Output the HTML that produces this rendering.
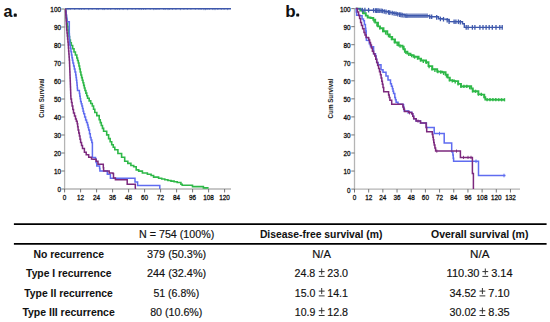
<!DOCTYPE html>
<html><head><meta charset="utf-8"><style>
html,body{margin:0;padding:0;background:#fff;}
body{width:550px;height:322px;overflow:hidden;}
svg{display:block;}
text{font-family:"Liberation Sans",sans-serif;fill:#111;}
.tk{font-size:7.4px;fill:#111;stroke:#111;stroke-width:0.3px;}
.yl{font-size:6.3px;font-weight:bold;fill:#1a1a1a;}
.pl{font-size:17px;font-weight:bold;fill:#111;}
.tb{font-size:10px;font-weight:bold;fill:#111;stroke:#111;stroke-width:0.05px;}
.tr{font-size:10px;fill:#111;stroke:#111;stroke-width:0.15px;}
</style></head><body>
<svg width="550" height="322" viewBox="0 0 550 322">
<text x="3.4" y="16.7" class="pl" textLength="9.0" lengthAdjust="spacingAndGlyphs">a</text>
<rect x="13.7" y="13.6" width="3.1" height="3.2" rx="0.9" fill="#111"/>
<text x="285.3" y="16.5" class="pl">b</text>
<rect x="296.2" y="13.5" width="3.0" height="3.1" rx="0.9" fill="#111"/>
<line x1="64.6" y1="8.70" x2="64.6" y2="189.60" stroke="#B4B4B4" stroke-width="1.3"/>
<line x1="64.00" y1="189.0" x2="231" y2="189.0" stroke="#B4B4B4" stroke-width="1.3"/>
<line x1="61.40" y1="189.00" x2="64.6" y2="189.00" stroke="#555" stroke-width="0.8"/>
<text x="61.0" y="192.40" class="tk" text-anchor="end" textLength="3.55" lengthAdjust="spacingAndGlyphs">0</text>
<line x1="61.40" y1="171.00" x2="64.6" y2="171.00" stroke="#555" stroke-width="0.8"/>
<text x="61.0" y="174.40" class="tk" text-anchor="end" textLength="7.10" lengthAdjust="spacingAndGlyphs">10</text>
<line x1="61.40" y1="153.00" x2="64.6" y2="153.00" stroke="#555" stroke-width="0.8"/>
<text x="61.0" y="156.40" class="tk" text-anchor="end" textLength="7.10" lengthAdjust="spacingAndGlyphs">20</text>
<line x1="61.40" y1="135.00" x2="64.6" y2="135.00" stroke="#555" stroke-width="0.8"/>
<text x="61.0" y="138.40" class="tk" text-anchor="end" textLength="7.10" lengthAdjust="spacingAndGlyphs">30</text>
<line x1="61.40" y1="117.00" x2="64.6" y2="117.00" stroke="#555" stroke-width="0.8"/>
<text x="61.0" y="120.40" class="tk" text-anchor="end" textLength="7.10" lengthAdjust="spacingAndGlyphs">40</text>
<line x1="61.40" y1="99.00" x2="64.6" y2="99.00" stroke="#555" stroke-width="0.8"/>
<text x="61.0" y="102.40" class="tk" text-anchor="end" textLength="7.10" lengthAdjust="spacingAndGlyphs">50</text>
<line x1="61.40" y1="81.00" x2="64.6" y2="81.00" stroke="#555" stroke-width="0.8"/>
<text x="61.0" y="84.40" class="tk" text-anchor="end" textLength="7.10" lengthAdjust="spacingAndGlyphs">60</text>
<line x1="61.40" y1="63.00" x2="64.6" y2="63.00" stroke="#555" stroke-width="0.8"/>
<text x="61.0" y="66.40" class="tk" text-anchor="end" textLength="7.10" lengthAdjust="spacingAndGlyphs">70</text>
<line x1="61.40" y1="45.00" x2="64.6" y2="45.00" stroke="#555" stroke-width="0.8"/>
<text x="61.0" y="48.40" class="tk" text-anchor="end" textLength="7.10" lengthAdjust="spacingAndGlyphs">80</text>
<line x1="61.40" y1="27.00" x2="64.6" y2="27.00" stroke="#555" stroke-width="0.8"/>
<text x="61.0" y="30.40" class="tk" text-anchor="end" textLength="7.10" lengthAdjust="spacingAndGlyphs">90</text>
<line x1="61.40" y1="9.00" x2="64.6" y2="9.00" stroke="#555" stroke-width="0.8"/>
<text x="61.0" y="12.40" class="tk" text-anchor="end" textLength="10.65" lengthAdjust="spacingAndGlyphs">100</text>
<line x1="64.60" y1="189.0" x2="64.60" y2="192.40" stroke="#666" stroke-width="0.9"/>
<text x="64.60" y="199.50" class="tk" text-anchor="middle" textLength="3.55" lengthAdjust="spacingAndGlyphs">0</text>
<line x1="80.60" y1="189.0" x2="80.60" y2="192.40" stroke="#666" stroke-width="0.9"/>
<text x="80.60" y="199.50" class="tk" text-anchor="middle" textLength="7.10" lengthAdjust="spacingAndGlyphs">12</text>
<line x1="96.60" y1="189.0" x2="96.60" y2="192.40" stroke="#666" stroke-width="0.9"/>
<text x="96.60" y="199.50" class="tk" text-anchor="middle" textLength="7.10" lengthAdjust="spacingAndGlyphs">24</text>
<line x1="112.60" y1="189.0" x2="112.60" y2="192.40" stroke="#666" stroke-width="0.9"/>
<text x="112.60" y="199.50" class="tk" text-anchor="middle" textLength="7.10" lengthAdjust="spacingAndGlyphs">36</text>
<line x1="128.60" y1="189.0" x2="128.60" y2="192.40" stroke="#666" stroke-width="0.9"/>
<text x="128.60" y="199.50" class="tk" text-anchor="middle" textLength="7.10" lengthAdjust="spacingAndGlyphs">48</text>
<line x1="144.60" y1="189.0" x2="144.60" y2="192.40" stroke="#666" stroke-width="0.9"/>
<text x="144.60" y="199.50" class="tk" text-anchor="middle" textLength="7.10" lengthAdjust="spacingAndGlyphs">60</text>
<line x1="160.60" y1="189.0" x2="160.60" y2="192.40" stroke="#666" stroke-width="0.9"/>
<text x="160.60" y="199.50" class="tk" text-anchor="middle" textLength="7.10" lengthAdjust="spacingAndGlyphs">72</text>
<line x1="176.60" y1="189.0" x2="176.60" y2="192.40" stroke="#666" stroke-width="0.9"/>
<text x="176.60" y="199.50" class="tk" text-anchor="middle" textLength="7.10" lengthAdjust="spacingAndGlyphs">84</text>
<line x1="192.60" y1="189.0" x2="192.60" y2="192.40" stroke="#666" stroke-width="0.9"/>
<text x="192.60" y="199.50" class="tk" text-anchor="middle" textLength="7.10" lengthAdjust="spacingAndGlyphs">96</text>
<line x1="208.60" y1="189.0" x2="208.60" y2="192.40" stroke="#666" stroke-width="0.9"/>
<text x="208.60" y="199.50" class="tk" text-anchor="middle" textLength="10.65" lengthAdjust="spacingAndGlyphs">108</text>
<line x1="224.60" y1="189.0" x2="224.60" y2="192.40" stroke="#666" stroke-width="0.9"/>
<text x="224.60" y="199.50" class="tk" text-anchor="middle" textLength="10.65" lengthAdjust="spacingAndGlyphs">120</text>
<line x1="354.5" y1="8.30" x2="354.5" y2="189.70" stroke="#B4B4B4" stroke-width="1.3"/>
<line x1="353.90" y1="189.1" x2="520" y2="189.1" stroke="#B4B4B4" stroke-width="1.3"/>
<line x1="351.30" y1="189.10" x2="354.5" y2="189.10" stroke="#555" stroke-width="0.8"/>
<text x="350.6" y="192.50" class="tk" text-anchor="end" textLength="3.55" lengthAdjust="spacingAndGlyphs">0</text>
<line x1="351.30" y1="171.05" x2="354.5" y2="171.05" stroke="#555" stroke-width="0.8"/>
<text x="350.6" y="174.45" class="tk" text-anchor="end" textLength="7.10" lengthAdjust="spacingAndGlyphs">10</text>
<line x1="351.30" y1="153.00" x2="354.5" y2="153.00" stroke="#555" stroke-width="0.8"/>
<text x="350.6" y="156.40" class="tk" text-anchor="end" textLength="7.10" lengthAdjust="spacingAndGlyphs">20</text>
<line x1="351.30" y1="134.95" x2="354.5" y2="134.95" stroke="#555" stroke-width="0.8"/>
<text x="350.6" y="138.35" class="tk" text-anchor="end" textLength="7.10" lengthAdjust="spacingAndGlyphs">30</text>
<line x1="351.30" y1="116.90" x2="354.5" y2="116.90" stroke="#555" stroke-width="0.8"/>
<text x="350.6" y="120.30" class="tk" text-anchor="end" textLength="7.10" lengthAdjust="spacingAndGlyphs">40</text>
<line x1="351.30" y1="98.85" x2="354.5" y2="98.85" stroke="#555" stroke-width="0.8"/>
<text x="350.6" y="102.25" class="tk" text-anchor="end" textLength="7.10" lengthAdjust="spacingAndGlyphs">50</text>
<line x1="351.30" y1="80.80" x2="354.5" y2="80.80" stroke="#555" stroke-width="0.8"/>
<text x="350.6" y="84.20" class="tk" text-anchor="end" textLength="7.10" lengthAdjust="spacingAndGlyphs">60</text>
<line x1="351.30" y1="62.75" x2="354.5" y2="62.75" stroke="#555" stroke-width="0.8"/>
<text x="350.6" y="66.15" class="tk" text-anchor="end" textLength="7.10" lengthAdjust="spacingAndGlyphs">70</text>
<line x1="351.30" y1="44.70" x2="354.5" y2="44.70" stroke="#555" stroke-width="0.8"/>
<text x="350.6" y="48.10" class="tk" text-anchor="end" textLength="7.10" lengthAdjust="spacingAndGlyphs">80</text>
<line x1="351.30" y1="26.65" x2="354.5" y2="26.65" stroke="#555" stroke-width="0.8"/>
<text x="350.6" y="30.05" class="tk" text-anchor="end" textLength="7.10" lengthAdjust="spacingAndGlyphs">90</text>
<line x1="351.30" y1="8.60" x2="354.5" y2="8.60" stroke="#555" stroke-width="0.8"/>
<text x="350.6" y="12.00" class="tk" text-anchor="end" textLength="10.65" lengthAdjust="spacingAndGlyphs">100</text>
<line x1="354.50" y1="189.1" x2="354.50" y2="192.50" stroke="#666" stroke-width="0.9"/>
<text x="354.50" y="199.60" class="tk" text-anchor="middle" textLength="3.55" lengthAdjust="spacingAndGlyphs">0</text>
<line x1="368.68" y1="189.1" x2="368.68" y2="192.50" stroke="#666" stroke-width="0.9"/>
<text x="368.68" y="199.60" class="tk" text-anchor="middle" textLength="7.10" lengthAdjust="spacingAndGlyphs">12</text>
<line x1="382.86" y1="189.1" x2="382.86" y2="192.50" stroke="#666" stroke-width="0.9"/>
<text x="382.86" y="199.60" class="tk" text-anchor="middle" textLength="7.10" lengthAdjust="spacingAndGlyphs">24</text>
<line x1="397.04" y1="189.1" x2="397.04" y2="192.50" stroke="#666" stroke-width="0.9"/>
<text x="397.04" y="199.60" class="tk" text-anchor="middle" textLength="7.10" lengthAdjust="spacingAndGlyphs">36</text>
<line x1="411.22" y1="189.1" x2="411.22" y2="192.50" stroke="#666" stroke-width="0.9"/>
<text x="411.22" y="199.60" class="tk" text-anchor="middle" textLength="7.10" lengthAdjust="spacingAndGlyphs">48</text>
<line x1="425.40" y1="189.1" x2="425.40" y2="192.50" stroke="#666" stroke-width="0.9"/>
<text x="425.40" y="199.60" class="tk" text-anchor="middle" textLength="7.10" lengthAdjust="spacingAndGlyphs">60</text>
<line x1="439.58" y1="189.1" x2="439.58" y2="192.50" stroke="#666" stroke-width="0.9"/>
<text x="439.58" y="199.60" class="tk" text-anchor="middle" textLength="7.10" lengthAdjust="spacingAndGlyphs">72</text>
<line x1="453.76" y1="189.1" x2="453.76" y2="192.50" stroke="#666" stroke-width="0.9"/>
<text x="453.76" y="199.60" class="tk" text-anchor="middle" textLength="7.10" lengthAdjust="spacingAndGlyphs">84</text>
<line x1="467.94" y1="189.1" x2="467.94" y2="192.50" stroke="#666" stroke-width="0.9"/>
<text x="467.94" y="199.60" class="tk" text-anchor="middle" textLength="7.10" lengthAdjust="spacingAndGlyphs">96</text>
<line x1="482.12" y1="189.1" x2="482.12" y2="192.50" stroke="#666" stroke-width="0.9"/>
<text x="482.12" y="199.60" class="tk" text-anchor="middle" textLength="10.65" lengthAdjust="spacingAndGlyphs">108</text>
<line x1="496.30" y1="189.1" x2="496.30" y2="192.50" stroke="#666" stroke-width="0.9"/>
<text x="496.30" y="199.60" class="tk" text-anchor="middle" textLength="10.65" lengthAdjust="spacingAndGlyphs">120</text>
<line x1="510.48" y1="189.1" x2="510.48" y2="192.50" stroke="#666" stroke-width="0.9"/>
<text x="510.48" y="199.60" class="tk" text-anchor="middle" textLength="10.65" lengthAdjust="spacingAndGlyphs">132</text>
<text transform="translate(44.1,98.1) rotate(-90)" class="yl" text-anchor="middle" textLength="39.2" lengthAdjust="spacingAndGlyphs">Cum Survival</text>
<text transform="translate(333.0,98.5) rotate(-90)" class="yl" text-anchor="middle" textLength="39.8" lengthAdjust="spacingAndGlyphs">Cum Survival</text>
<line x1="65.2" y1="8.7" x2="231" y2="8.7" stroke="#3E58AC" stroke-width="1.6"/>
<line x1="68.00" y1="8.8" x2="68.00" y2="10.13" stroke="#3E58AC" stroke-width="0.9" opacity="0.6"/>
<line x1="70.20" y1="8.8" x2="70.20" y2="10.03" stroke="#3E58AC" stroke-width="0.9" opacity="0.6"/>
<line x1="74.70" y1="8.8" x2="74.70" y2="10.01" stroke="#3E58AC" stroke-width="0.9" opacity="0.6"/>
<line x1="79.20" y1="8.8" x2="79.20" y2="9.96" stroke="#3E58AC" stroke-width="0.9" opacity="0.6"/>
<line x1="81.40" y1="8.8" x2="81.40" y2="9.89" stroke="#3E58AC" stroke-width="0.9" opacity="0.6"/>
<line x1="84.20" y1="8.8" x2="84.20" y2="9.93" stroke="#3E58AC" stroke-width="0.9" opacity="0.6"/>
<line x1="88.70" y1="8.8" x2="88.70" y2="10.17" stroke="#3E58AC" stroke-width="0.9" opacity="0.6"/>
<line x1="92.20" y1="8.8" x2="92.20" y2="9.81" stroke="#3E58AC" stroke-width="0.9" opacity="0.6"/>
<line x1="96.70" y1="8.8" x2="96.70" y2="9.91" stroke="#3E58AC" stroke-width="0.9" opacity="0.6"/>
<line x1="98.30" y1="8.8" x2="98.30" y2="10.04" stroke="#3E58AC" stroke-width="0.9" opacity="0.6"/>
<line x1="102.80" y1="8.8" x2="102.80" y2="10.08" stroke="#3E58AC" stroke-width="0.9" opacity="0.6"/>
<line x1="104.40" y1="8.8" x2="104.40" y2="10.08" stroke="#3E58AC" stroke-width="0.9" opacity="0.6"/>
<line x1="107.90" y1="8.8" x2="107.90" y2="9.93" stroke="#3E58AC" stroke-width="0.9" opacity="0.6"/>
<line x1="110.70" y1="8.8" x2="110.70" y2="10.02" stroke="#3E58AC" stroke-width="0.9" opacity="0.6"/>
<line x1="115.20" y1="8.8" x2="115.20" y2="10.03" stroke="#3E58AC" stroke-width="0.9" opacity="0.6"/>
<line x1="117.40" y1="8.8" x2="117.40" y2="9.84" stroke="#3E58AC" stroke-width="0.9" opacity="0.6"/>
<line x1="119.60" y1="8.8" x2="119.60" y2="10.06" stroke="#3E58AC" stroke-width="0.9" opacity="0.6"/>
<line x1="123.10" y1="8.8" x2="123.10" y2="10.05" stroke="#3E58AC" stroke-width="0.9" opacity="0.6"/>
<line x1="127.60" y1="8.8" x2="127.60" y2="10.20" stroke="#3E58AC" stroke-width="0.9" opacity="0.6"/>
<line x1="132.10" y1="8.8" x2="132.10" y2="9.91" stroke="#3E58AC" stroke-width="0.9" opacity="0.6"/>
<line x1="135.60" y1="8.8" x2="135.60" y2="9.85" stroke="#3E58AC" stroke-width="0.9" opacity="0.6"/>
<line x1="139.10" y1="8.8" x2="139.10" y2="9.99" stroke="#3E58AC" stroke-width="0.9" opacity="0.6"/>
<line x1="141.30" y1="8.8" x2="141.30" y2="10.06" stroke="#3E58AC" stroke-width="0.9" opacity="0.6"/>
<line x1="143.50" y1="8.8" x2="143.50" y2="9.99" stroke="#3E58AC" stroke-width="0.9" opacity="0.6"/>
<line x1="145.70" y1="8.8" x2="145.70" y2="9.94" stroke="#3E58AC" stroke-width="0.9" opacity="0.6"/>
<line x1="150.20" y1="8.8" x2="150.20" y2="9.83" stroke="#3E58AC" stroke-width="0.9" opacity="0.6"/>
<line x1="153.70" y1="8.8" x2="153.70" y2="10.16" stroke="#3E58AC" stroke-width="0.9" opacity="0.6"/>
<line x1="155.30" y1="8.8" x2="155.30" y2="9.81" stroke="#3E58AC" stroke-width="0.9" opacity="0.6"/>
<line x1="156.90" y1="8.8" x2="156.90" y2="9.97" stroke="#3E58AC" stroke-width="0.9" opacity="0.6"/>
<line x1="159.10" y1="8.8" x2="159.10" y2="9.97" stroke="#3E58AC" stroke-width="0.9" opacity="0.6"/>
<line x1="163.60" y1="8.8" x2="163.60" y2="9.85" stroke="#3E58AC" stroke-width="0.9" opacity="0.6"/>
<line x1="165.20" y1="8.8" x2="165.20" y2="10.04" stroke="#3E58AC" stroke-width="0.9" opacity="0.6"/>
<line x1="168.00" y1="8.8" x2="168.00" y2="10.10" stroke="#3E58AC" stroke-width="0.9" opacity="0.6"/>
<line x1="169.60" y1="8.8" x2="169.60" y2="9.95" stroke="#3E58AC" stroke-width="0.9" opacity="0.6"/>
<line x1="172.40" y1="8.8" x2="172.40" y2="10.03" stroke="#3E58AC" stroke-width="0.9" opacity="0.6"/>
<line x1="175.90" y1="8.8" x2="175.90" y2="10.02" stroke="#3E58AC" stroke-width="0.9" opacity="0.6"/>
<line x1="180.40" y1="8.8" x2="180.40" y2="10.17" stroke="#3E58AC" stroke-width="0.9" opacity="0.6"/>
<line x1="183.90" y1="8.8" x2="183.90" y2="9.91" stroke="#3E58AC" stroke-width="0.9" opacity="0.6"/>
<line x1="187.40" y1="8.8" x2="187.40" y2="9.89" stroke="#3E58AC" stroke-width="0.9" opacity="0.6"/>
<line x1="190.90" y1="8.8" x2="190.90" y2="9.81" stroke="#3E58AC" stroke-width="0.9" opacity="0.6"/>
<line x1="195.40" y1="8.8" x2="195.40" y2="9.80" stroke="#3E58AC" stroke-width="0.9" opacity="0.6"/>
<line x1="198.90" y1="8.8" x2="198.90" y2="9.84" stroke="#3E58AC" stroke-width="0.9" opacity="0.6"/>
<line x1="201.10" y1="8.8" x2="201.10" y2="10.01" stroke="#3E58AC" stroke-width="0.9" opacity="0.6"/>
<line x1="203.90" y1="8.8" x2="203.90" y2="10.18" stroke="#3E58AC" stroke-width="0.9" opacity="0.6"/>
<line x1="205.50" y1="8.8" x2="205.50" y2="10.19" stroke="#3E58AC" stroke-width="0.9" opacity="0.6"/>
<line x1="207.10" y1="8.8" x2="207.10" y2="9.92" stroke="#3E58AC" stroke-width="0.9" opacity="0.6"/>
<line x1="209.30" y1="8.8" x2="209.30" y2="9.91" stroke="#3E58AC" stroke-width="0.9" opacity="0.6"/>
<line x1="212.80" y1="8.8" x2="212.80" y2="10.08" stroke="#3E58AC" stroke-width="0.9" opacity="0.6"/>
<line x1="215.00" y1="8.8" x2="215.00" y2="10.19" stroke="#3E58AC" stroke-width="0.9" opacity="0.6"/>
<line x1="217.80" y1="8.8" x2="217.80" y2="9.94" stroke="#3E58AC" stroke-width="0.9" opacity="0.6"/>
<line x1="221.30" y1="8.8" x2="221.30" y2="9.94" stroke="#3E58AC" stroke-width="0.9" opacity="0.6"/>
<line x1="224.10" y1="8.8" x2="224.10" y2="9.86" stroke="#3E58AC" stroke-width="0.9" opacity="0.6"/>
<line x1="227.60" y1="8.8" x2="227.60" y2="10.14" stroke="#3E58AC" stroke-width="0.9" opacity="0.6"/>
<path d="M65.50,9.00 L65.75,9.00 L65.75,11.75 L66.00,11.75 L66.00,14.50 L66.25,14.50 L66.25,17.25 L66.50,17.25 L66.50,20.00 L67.00,20.00 L67.00,23.33 L67.50,23.33 L67.50,26.67 L68.00,26.67 L68.00,30.00 L68.50,30.00 L68.50,33.33 L69.00,33.33 L69.00,36.67 L69.50,36.67 L69.50,40.00 L70.40,40.00 L70.40,42.75 L71.30,42.75 L71.30,45.50 L72.65,45.50 L72.65,48.75 L74.00,48.75 L74.00,52.00 L75.40,52.00 L75.40,55.00 L76.80,55.00 L76.80,58.00 L77.55,58.00 L77.55,60.50 L78.30,60.50 L78.30,63.00 L78.95,63.00 L78.95,66.00 L79.60,66.00 L79.60,69.00 L80.25,69.00 L80.25,72.00 L80.90,72.00 L80.90,75.00 L81.60,75.00 L81.60,77.60 L82.30,77.60 L82.30,80.20 L83.00,80.20 L83.00,82.80 L83.67,82.80 L83.67,85.37 L84.33,85.37 L84.33,87.93 L85.00,87.93 L85.00,90.50 L85.87,90.50 L85.87,93.10 L86.73,93.10 L86.73,95.70 L87.60,95.70 L87.60,98.30 L89.17,98.30 L89.17,100.87 L90.73,100.87 L90.73,103.43 L92.30,103.43 L92.30,106.00 L93.55,106.00 L93.55,109.25 L94.80,109.25 L94.80,112.50 L96.80,112.50 L96.80,115.60 L99.20,115.60 L99.20,119.80 L100.25,119.80 L100.25,122.65 L101.30,122.65 L101.30,125.50 L102.45,125.50 L102.45,128.35 L103.60,128.35 L103.60,131.20 L106.70,131.20 L106.70,134.90 L108.60,134.90 L108.60,138.60 L110.15,138.60 L110.15,141.70 L111.70,141.70 L111.70,144.80 L113.25,144.80 L113.25,147.30 L114.80,147.30 L114.80,149.80 L117.90,149.80 L117.90,153.50 L121.60,153.50 L121.60,157.30 L124.70,157.30 L124.70,161.20 L127.80,161.20 L127.80,163.35 L130.90,163.35 L130.90,165.50 L133.70,165.50 L133.70,166.80 L136.20,166.80 L136.20,169.90 L138.70,169.90 L138.70,171.10 L142.40,171.10 L142.40,173.00 L147.40,173.00 L147.40,174.20 L151.10,174.20 L151.10,175.50 L153.60,175.50 L153.60,177.10 L158.60,177.10 L158.60,178.30 L161.70,178.30 L161.70,179.05 L164.80,179.05 L164.80,179.80 L167.90,179.80 L167.90,180.45 L171.00,180.45 L171.00,181.10 L174.10,181.10 L174.10,181.80 L177.20,181.80 L177.20,182.50 L180.90,182.50 L180.90,184.20 L182.20,184.20 L182.20,185.30 L190.40,185.30 L192.50,185.30 L192.50,186.60 L201.80,186.60 L203.40,186.60 L203.40,187.90 L207.80,187.90 L207.80,188.80" fill="none" stroke="#2EB848" stroke-width="1.6" stroke-linejoin="miter" stroke-linecap="butt" />
<path d="M65.50,9.00 L65.88,9.00 L65.88,12.18 L66.25,12.18 L66.25,15.35 L66.62,15.35 L66.62,18.52 L67.00,18.52 L67.00,21.70 L69.30,21.70 L69.30,34.00 L69.42,34.00 L69.42,36.75 L69.55,36.75 L69.55,39.50 L69.67,39.50 L69.67,42.25 L69.80,42.25 L69.80,45.00 L70.37,45.00 L70.37,48.33 L70.93,48.33 L70.93,51.67 L71.50,51.67 L71.50,55.00 L71.97,55.00 L71.97,57.67 L72.43,57.67 L72.43,60.33 L72.90,60.33 L72.90,63.00 L73.60,63.00 L73.60,66.00 L74.30,66.00 L74.30,69.00 L75.00,69.00 L75.00,72.00 L75.70,72.00 L75.70,75.00 L76.07,75.00 L76.07,77.60 L76.43,77.60 L76.43,80.20 L76.80,80.20 L76.80,82.80 L77.03,82.80 L77.03,85.37 L77.27,85.37 L77.27,87.93 L77.50,87.93 L77.50,90.50 L79.40,90.50 L79.40,93.60 L79.80,93.60 L79.80,96.20 L80.20,96.20 L80.20,98.80 L80.60,98.80 L80.60,101.40 L81.25,101.40 L81.25,103.70 L81.90,103.70 L81.90,106.00 L82.50,106.00 L82.50,108.60 L83.10,108.60 L83.10,111.20 L83.70,111.20 L83.70,113.80 L84.65,113.80 L84.65,116.90 L85.60,116.90 L85.60,120.00 L86.55,120.00 L86.55,122.50 L87.50,122.50 L87.50,125.00 L88.10,125.00 L88.10,127.50 L88.70,127.50 L88.70,130.00 L89.50,130.00 L89.50,133.70 L90.30,133.70 L90.30,137.40 L91.05,137.40 L91.05,139.90 L91.80,139.90 L91.80,142.40 L92.40,142.40 L92.40,144.80 L92.40,157.40 L95.50,157.40 L95.50,159.20 L96.10,159.20 L96.10,162.40 L96.80,162.40 L96.80,166.10 L99.30,166.10 L99.60,166.10 L99.60,168.60 L99.90,168.60 L99.90,171.10 L106.70,171.10 L107.30,171.10 L107.30,174.20 L110.40,174.20 L110.40,178.20 L134.30,178.20 L135.00,178.20 L135.00,181.90 L137.60,181.90 L137.60,185.40 L159.80,185.40 L159.80,189.00" fill="none" stroke="#5F6CF0" stroke-width="1.5" stroke-linejoin="miter" stroke-linecap="butt" />
<path d="M65.50,9.00 L65.67,9.00 L65.67,12.00 L65.84,12.00 L65.84,15.00 L66.01,15.00 L66.01,18.00 L66.19,18.00 L66.19,21.00 L66.36,21.00 L66.36,24.00 L66.53,24.00 L66.53,27.00 L66.70,27.00 L66.70,30.00 L67.00,30.00 L67.00,33.00 L67.30,33.00 L67.30,36.00 L67.60,36.00 L67.60,39.00 L67.90,39.00 L67.90,42.00 L68.20,42.00 L68.20,45.00 L68.42,45.00 L68.42,48.00 L68.63,48.00 L68.63,51.00 L68.85,51.00 L68.85,54.00 L69.07,54.00 L69.07,57.00 L69.28,57.00 L69.28,60.00 L69.50,60.00 L69.50,63.00 L69.62,63.00 L69.62,66.00 L69.73,66.00 L69.73,69.00 L69.85,69.00 L69.85,72.00 L69.97,72.00 L69.97,75.00 L70.08,75.00 L70.08,78.00 L70.20,78.00 L70.20,81.00 L70.32,81.00 L70.32,84.00 L70.43,84.00 L70.43,87.00 L70.55,87.00 L70.55,90.00 L70.67,90.00 L70.67,93.00 L70.78,93.00 L70.78,96.00 L70.90,96.00 L70.90,99.00 L71.50,99.00 L71.50,102.50 L72.10,102.50 L72.10,106.00 L72.80,106.00 L72.80,109.50 L73.50,109.50 L73.50,113.00 L74.50,113.00 L74.50,116.00 L75.50,116.00 L75.50,119.00 L76.35,119.00 L76.35,121.35 L77.20,121.35 L77.20,123.70 L77.65,123.70 L77.65,126.85 L78.10,126.85 L78.10,130.00 L78.75,130.00 L78.75,133.00 L79.40,133.00 L79.40,136.00 L80.00,136.00 L80.00,139.20 L80.60,139.20 L80.60,142.40 L81.55,142.40 L81.55,145.50 L82.50,145.50 L82.50,148.60 L84.40,148.60 L84.40,152.30 L86.20,152.30 L86.20,154.80 L88.70,154.80 L88.70,157.30 L91.50,157.30 L91.50,159.00 L93.70,159.30 L96.10,159.30 L96.10,161.20 L98.00,161.20 L98.00,164.30 L103.00,164.30 L103.30,164.30 L103.30,167.70 L103.60,167.70 L103.60,171.10 L108.60,171.10 L109.20,171.10 L109.20,173.00 L112.90,173.00 L112.90,173.60 L113.50,173.60 L113.50,178.00 L115.40,178.00 L115.40,179.80 L126.60,179.80 L127.20,179.80 L127.20,184.20 L132.20,184.20 L135.30,184.20 L135.30,187.90 L135.60,189.00" fill="none" stroke="#7C287D" stroke-width="1.5" stroke-linejoin="miter" stroke-linecap="butt" />
<path d="M355.80,8.60 L360.30,8.60 L360.30,10.50 L363.00,10.50 L363.00,13.30 L365.80,13.30 L365.80,15.60 L367.70,15.60 L367.70,17.50 L370.50,17.50 L370.50,18.00 L373.30,18.00 L373.30,19.80 L375.20,19.80 L375.20,22.60 L378.00,22.60 L378.00,26.40 L380.00,26.40 L380.00,28.20 L383.50,28.20 L383.50,31.30 L387.30,31.30 L387.30,34.40 L389.75,34.40 L389.75,36.90 L392.20,36.90 L392.20,39.40 L395.00,39.40 L395.00,42.50 L398.70,42.50 L398.70,45.60 L402.50,45.60 L402.50,46.80 L403.70,46.80 L403.70,49.30 L404.90,49.30 L404.90,51.80 L407.40,51.80 L407.40,53.60 L410.50,53.60 L410.50,55.15 L413.60,55.15 L413.60,56.70 L418.60,56.70 L418.60,58.60 L421.10,58.60 L421.10,60.50 L426.10,60.50 L426.10,62.30 L428.50,62.30 L428.50,66.10 L432.30,66.10 L432.30,69.20 L437.20,69.20 L437.20,71.60 L442.20,71.60 L442.20,72.30 L445.60,72.30 L445.60,74.80 L447.70,74.80 L447.70,77.60 L449.80,77.60 L449.80,80.40 L454.00,80.40 L454.00,81.10 L458.20,81.10 L458.20,83.90 L461.00,83.90 L461.00,86.50 L467.10,86.30 L471.20,86.30 L471.20,88.50 L472.80,88.50 L472.80,91.30 L476.80,91.30 L478.40,91.30 L478.40,94.20 L483.30,94.60 L484.30,94.60 L484.30,97.10 L485.30,97.10 L485.30,99.60 L505.00,99.80" fill="none" stroke="#2EB848" stroke-width="1.9" stroke-linejoin="miter" stroke-linecap="butt" />
<line x1="374.00" y1="19.23" x2="374.00" y2="22.43" stroke="#2EB848" stroke-width="1.4"/>
<line x1="376.90" y1="23.31" x2="376.90" y2="26.51" stroke="#2EB848" stroke-width="1.4"/>
<line x1="379.80" y1="26.42" x2="379.80" y2="29.62" stroke="#2EB848" stroke-width="1.4"/>
<line x1="382.70" y1="28.99" x2="382.70" y2="32.19" stroke="#2EB848" stroke-width="1.4"/>
<line x1="385.60" y1="31.41" x2="385.60" y2="34.61" stroke="#2EB848" stroke-width="1.4"/>
<line x1="388.50" y1="34.02" x2="388.50" y2="37.22" stroke="#2EB848" stroke-width="1.4"/>
<line x1="391.40" y1="36.98" x2="391.40" y2="40.18" stroke="#2EB848" stroke-width="1.4"/>
<line x1="394.30" y1="40.13" x2="394.30" y2="43.33" stroke="#2EB848" stroke-width="1.4"/>
<line x1="397.20" y1="42.74" x2="397.20" y2="45.94" stroke="#2EB848" stroke-width="1.4"/>
<line x1="400.10" y1="44.44" x2="400.10" y2="47.64" stroke="#2EB848" stroke-width="1.4"/>
<line x1="403.00" y1="46.24" x2="403.00" y2="49.44" stroke="#2EB848" stroke-width="1.4"/>
<line x1="405.90" y1="50.92" x2="405.90" y2="54.12" stroke="#2EB848" stroke-width="1.4"/>
<line x1="408.80" y1="52.70" x2="408.80" y2="55.90" stroke="#2EB848" stroke-width="1.4"/>
<line x1="411.70" y1="54.15" x2="411.70" y2="57.35" stroke="#2EB848" stroke-width="1.4"/>
<line x1="414.60" y1="55.48" x2="414.60" y2="58.68" stroke="#2EB848" stroke-width="1.4"/>
<line x1="417.50" y1="56.58" x2="417.50" y2="59.78" stroke="#2EB848" stroke-width="1.4"/>
<line x1="420.40" y1="58.37" x2="420.40" y2="61.57" stroke="#2EB848" stroke-width="1.4"/>
<line x1="423.30" y1="59.69" x2="423.30" y2="62.89" stroke="#2EB848" stroke-width="1.4"/>
<line x1="426.20" y1="60.86" x2="426.20" y2="64.06" stroke="#2EB848" stroke-width="1.4"/>
<line x1="429.10" y1="64.99" x2="429.10" y2="68.19" stroke="#2EB848" stroke-width="1.4"/>
<line x1="432.00" y1="67.36" x2="432.00" y2="70.56" stroke="#2EB848" stroke-width="1.4"/>
<line x1="434.90" y1="68.87" x2="434.90" y2="72.07" stroke="#2EB848" stroke-width="1.4"/>
<line x1="437.80" y1="70.08" x2="437.80" y2="73.28" stroke="#2EB848" stroke-width="1.4"/>
<line x1="440.70" y1="70.49" x2="440.70" y2="73.69" stroke="#2EB848" stroke-width="1.4"/>
<line x1="443.60" y1="71.73" x2="443.60" y2="74.93" stroke="#2EB848" stroke-width="1.4"/>
<line x1="446.50" y1="74.40" x2="446.50" y2="77.60" stroke="#2EB848" stroke-width="1.4"/>
<line x1="449.40" y1="78.27" x2="449.40" y2="81.47" stroke="#2EB848" stroke-width="1.4"/>
<line x1="452.30" y1="79.22" x2="452.30" y2="82.42" stroke="#2EB848" stroke-width="1.4"/>
<line x1="455.20" y1="80.30" x2="455.20" y2="83.50" stroke="#2EB848" stroke-width="1.4"/>
<line x1="458.10" y1="82.23" x2="458.10" y2="85.43" stroke="#2EB848" stroke-width="1.4"/>
<line x1="461.00" y1="84.90" x2="461.00" y2="88.10" stroke="#2EB848" stroke-width="1.4"/>
<line x1="463.90" y1="84.80" x2="463.90" y2="88.00" stroke="#2EB848" stroke-width="1.4"/>
<line x1="466.80" y1="84.71" x2="466.80" y2="87.91" stroke="#2EB848" stroke-width="1.4"/>
<line x1="469.70" y1="86.10" x2="469.70" y2="89.30" stroke="#2EB848" stroke-width="1.4"/>
<line x1="472.60" y1="89.35" x2="472.60" y2="92.55" stroke="#2EB848" stroke-width="1.4"/>
<line x1="475.50" y1="89.70" x2="475.50" y2="92.90" stroke="#2EB848" stroke-width="1.4"/>
<line x1="478.40" y1="92.60" x2="478.40" y2="95.80" stroke="#2EB848" stroke-width="1.4"/>
<line x1="481.30" y1="92.84" x2="481.30" y2="96.04" stroke="#2EB848" stroke-width="1.4"/>
<line x1="484.20" y1="95.25" x2="484.20" y2="98.45" stroke="#2EB848" stroke-width="1.4"/>
<line x1="487.10" y1="98.02" x2="487.10" y2="101.22" stroke="#2EB848" stroke-width="1.4"/>
<line x1="490.00" y1="98.05" x2="490.00" y2="101.25" stroke="#2EB848" stroke-width="1.4"/>
<line x1="492.90" y1="98.08" x2="492.90" y2="101.28" stroke="#2EB848" stroke-width="1.4"/>
<line x1="495.80" y1="98.11" x2="495.80" y2="101.31" stroke="#2EB848" stroke-width="1.4"/>
<line x1="498.70" y1="98.14" x2="498.70" y2="101.34" stroke="#2EB848" stroke-width="1.4"/>
<line x1="501.60" y1="98.17" x2="501.60" y2="101.37" stroke="#2EB848" stroke-width="1.4"/>
<line x1="504.50" y1="98.19" x2="504.50" y2="101.39" stroke="#2EB848" stroke-width="1.4"/>
<path d="M355.80,8.60 L359.30,8.60 L359.30,9.10 L362.10,9.10 L362.10,10.10 L368.60,10.20 L372.73,10.20 L372.73,10.40 L376.87,10.40 L376.87,10.60 L381.00,10.60 L381.00,10.80 L384.15,10.80 L384.15,11.45 L387.30,11.45 L387.30,12.10 L390.40,12.10 L390.40,12.70 L393.50,12.70 L393.50,13.30 L396.60,13.30 L396.60,13.95 L399.70,13.95 L399.70,14.60 L405.00,14.60 L405.00,15.80 L427.40,15.80 L429.20,15.80 L429.20,16.80 L436.00,16.80 L438.50,16.80 L438.50,18.70 L442.25,18.70 L442.25,19.10 L446.00,19.10 L446.00,19.50 L449.10,19.50 L449.10,21.60 L459.70,21.80 L462.50,21.80 L462.50,23.70 L464.30,23.70 L464.30,27.40 L502.90,27.40" fill="none" stroke="#3E58AC" stroke-width="1.4" stroke-linejoin="miter" stroke-linecap="butt" />
<line x1="362.40" y1="7.80" x2="362.40" y2="12.40" stroke="#3E58AC" stroke-width="1.3"/>
<line x1="364.90" y1="7.84" x2="364.90" y2="12.44" stroke="#3E58AC" stroke-width="1.3"/>
<line x1="368.60" y1="7.90" x2="368.60" y2="12.50" stroke="#3E58AC" stroke-width="1.3"/>
<line x1="373.60" y1="8.14" x2="373.60" y2="12.74" stroke="#3E58AC" stroke-width="1.3"/>
<line x1="375.50" y1="8.23" x2="375.50" y2="12.83" stroke="#3E58AC" stroke-width="1.3"/>
<line x1="376.70" y1="8.29" x2="376.70" y2="12.89" stroke="#3E58AC" stroke-width="1.3"/>
<line x1="378.00" y1="8.35" x2="378.00" y2="12.95" stroke="#3E58AC" stroke-width="1.3"/>
<line x1="379.20" y1="8.41" x2="379.20" y2="13.01" stroke="#3E58AC" stroke-width="1.3"/>
<line x1="381.00" y1="8.50" x2="381.00" y2="13.10" stroke="#3E58AC" stroke-width="1.3"/>
<line x1="382.30" y1="8.77" x2="382.30" y2="13.37" stroke="#3E58AC" stroke-width="1.3"/>
<line x1="384.20" y1="9.16" x2="384.20" y2="13.76" stroke="#3E58AC" stroke-width="1.3"/>
<line x1="386.00" y1="9.53" x2="386.00" y2="14.13" stroke="#3E58AC" stroke-width="1.3"/>
<line x1="388.50" y1="10.03" x2="388.50" y2="14.63" stroke="#3E58AC" stroke-width="1.3"/>
<line x1="389.80" y1="10.28" x2="389.80" y2="14.88" stroke="#3E58AC" stroke-width="1.3"/>
<line x1="392.20" y1="10.75" x2="392.20" y2="15.35" stroke="#3E58AC" stroke-width="1.3"/>
<line x1="394.10" y1="11.13" x2="394.10" y2="15.73" stroke="#3E58AC" stroke-width="1.3"/>
<line x1="396.00" y1="11.52" x2="396.00" y2="16.12" stroke="#3E58AC" stroke-width="1.3"/>
<line x1="397.80" y1="11.90" x2="397.80" y2="16.50" stroke="#3E58AC" stroke-width="1.3"/>
<line x1="399.70" y1="12.30" x2="399.70" y2="16.90" stroke="#3E58AC" stroke-width="1.3"/>
<line x1="400.90" y1="12.57" x2="400.90" y2="17.17" stroke="#3E58AC" stroke-width="1.3"/>
<line x1="402.20" y1="12.87" x2="402.20" y2="17.47" stroke="#3E58AC" stroke-width="1.3"/>
<line x1="404.00" y1="13.27" x2="404.00" y2="17.87" stroke="#3E58AC" stroke-width="1.3"/>
<line x1="405.90" y1="13.50" x2="405.90" y2="18.10" stroke="#3E58AC" stroke-width="1.3"/>
<line x1="407.10" y1="13.50" x2="407.10" y2="18.10" stroke="#3E58AC" stroke-width="1.3"/>
<line x1="409.00" y1="13.50" x2="409.00" y2="18.10" stroke="#3E58AC" stroke-width="1.3"/>
<line x1="411.00" y1="13.50" x2="411.00" y2="18.10" stroke="#3E58AC" stroke-width="1.3"/>
<line x1="413.00" y1="13.50" x2="413.00" y2="18.10" stroke="#3E58AC" stroke-width="1.3"/>
<line x1="415.00" y1="13.50" x2="415.00" y2="18.10" stroke="#3E58AC" stroke-width="1.3"/>
<line x1="417.00" y1="13.50" x2="417.00" y2="18.10" stroke="#3E58AC" stroke-width="1.3"/>
<line x1="419.00" y1="13.50" x2="419.00" y2="18.10" stroke="#3E58AC" stroke-width="1.3"/>
<line x1="421.00" y1="13.50" x2="421.00" y2="18.10" stroke="#3E58AC" stroke-width="1.3"/>
<line x1="423.00" y1="13.50" x2="423.00" y2="18.10" stroke="#3E58AC" stroke-width="1.3"/>
<line x1="425.00" y1="13.50" x2="425.00" y2="18.10" stroke="#3E58AC" stroke-width="1.3"/>
<line x1="427.00" y1="13.50" x2="427.00" y2="18.10" stroke="#3E58AC" stroke-width="1.3"/>
<line x1="429.80" y1="14.50" x2="429.80" y2="19.10" stroke="#3E58AC" stroke-width="1.3"/>
<line x1="431.70" y1="14.50" x2="431.70" y2="19.10" stroke="#3E58AC" stroke-width="1.3"/>
<line x1="436.70" y1="15.03" x2="436.70" y2="19.63" stroke="#3E58AC" stroke-width="1.3"/>
<line x1="440.40" y1="16.60" x2="440.40" y2="21.20" stroke="#3E58AC" stroke-width="1.3"/>
<line x1="443.50" y1="16.93" x2="443.50" y2="21.53" stroke="#3E58AC" stroke-width="1.3"/>
<line x1="447.20" y1="18.01" x2="447.20" y2="22.61" stroke="#3E58AC" stroke-width="1.3"/>
<line x1="449.10" y1="19.30" x2="449.10" y2="23.90" stroke="#3E58AC" stroke-width="1.3"/>
<line x1="454.10" y1="19.39" x2="454.10" y2="23.99" stroke="#3E58AC" stroke-width="1.3"/>
<line x1="455.90" y1="19.43" x2="455.90" y2="24.03" stroke="#3E58AC" stroke-width="1.3"/>
<line x1="458.40" y1="19.48" x2="458.40" y2="24.08" stroke="#3E58AC" stroke-width="1.3"/>
<line x1="460.30" y1="19.91" x2="460.30" y2="24.51" stroke="#3E58AC" stroke-width="1.3"/>
<line x1="466.20" y1="25.10" x2="466.20" y2="29.70" stroke="#3E58AC" stroke-width="1.3"/>
<line x1="468.10" y1="25.10" x2="468.10" y2="29.70" stroke="#3E58AC" stroke-width="1.3"/>
<line x1="472.40" y1="25.10" x2="472.40" y2="29.70" stroke="#3E58AC" stroke-width="1.3"/>
<line x1="474.90" y1="25.10" x2="474.90" y2="29.70" stroke="#3E58AC" stroke-width="1.3"/>
<line x1="479.90" y1="25.10" x2="479.90" y2="29.70" stroke="#3E58AC" stroke-width="1.3"/>
<line x1="483.00" y1="25.10" x2="483.00" y2="29.70" stroke="#3E58AC" stroke-width="1.3"/>
<line x1="486.10" y1="25.10" x2="486.10" y2="29.70" stroke="#3E58AC" stroke-width="1.3"/>
<line x1="489.20" y1="25.10" x2="489.20" y2="29.70" stroke="#3E58AC" stroke-width="1.3"/>
<line x1="492.30" y1="25.10" x2="492.30" y2="29.70" stroke="#3E58AC" stroke-width="1.3"/>
<line x1="496.00" y1="25.10" x2="496.00" y2="29.70" stroke="#3E58AC" stroke-width="1.3"/>
<line x1="499.80" y1="25.10" x2="499.80" y2="29.70" stroke="#3E58AC" stroke-width="1.3"/>
<line x1="502.20" y1="25.10" x2="502.20" y2="29.70" stroke="#3E58AC" stroke-width="1.3"/>
<path d="M355.80,8.60 L356.20,8.60 L356.20,11.90 L356.60,11.90 L356.60,15.20 L359.30,15.20 L359.80,15.20 L359.80,15.80 L361.60,15.80 L362.10,15.80 L362.10,18.90 L363.50,18.90 L363.50,20.80 L364.40,20.80 L364.40,24.50 L365.40,24.50 L365.40,28.20 L365.80,28.20 L365.80,31.10 L366.20,31.10 L366.20,34.00 L366.40,40.30 L368.60,40.60 L369.30,40.60 L369.30,43.70 L370.50,43.70 L370.50,46.80 L373.60,46.80 L373.60,53.70 L375.50,53.70 L375.50,56.10 L376.10,56.10 L376.10,59.25 L376.70,59.25 L376.70,62.40 L378.00,62.40 L378.00,64.80 L381.00,64.80 L381.00,69.80 L383.00,69.80 L383.00,72.30 L386.00,72.30 L386.00,76.00 L388.00,76.00 L388.00,80.00 L390.50,80.00 L390.50,83.70 L391.45,83.70 L391.45,86.20 L392.40,86.20 L392.40,88.70 L393.00,88.70 L393.00,91.15 L393.60,91.15 L393.60,93.60 L394.80,93.60 L394.80,97.40 L395.45,97.40 L395.45,99.85 L396.10,99.85 L396.10,102.30 L398.00,102.30 L398.00,104.20 L402.90,104.20 L402.90,104.80 L403.55,104.80 L403.55,107.90 L404.20,107.90 L404.20,111.00 L408.70,111.00 L408.70,112.30 L411.80,112.30 L411.80,113.70 L412.75,113.70 L412.75,116.20 L413.70,116.20 L413.70,118.70 L416.10,118.70 L416.10,121.10 L419.30,121.10 L420.50,121.10 L420.50,123.00 L424.80,123.00 L426.40,123.00 L426.40,127.40 L434.20,127.40 L434.20,133.60 L444.20,133.60 L444.20,143.10 L451.70,143.10 L451.70,151.80 L452.50,152.00 L452.87,152.00 L452.87,155.10 L453.23,155.10 L453.23,158.20 L453.60,158.20 L453.60,161.30 L478.50,161.30 L478.50,175.50 L505.50,175.50" fill="none" stroke="#5F6CF0" stroke-width="1.5" stroke-linejoin="miter" stroke-linecap="butt" />
<line x1="504.00" y1="173.70" x2="504.00" y2="177.30" stroke="#5F6CF0" stroke-width="1.0"/>
<line x1="476.00" y1="159.50" x2="476.00" y2="163.10" stroke="#5F6CF0" stroke-width="1.0"/>
<line x1="439.50" y1="131.80" x2="439.50" y2="135.40" stroke="#5F6CF0" stroke-width="1.0"/>
<line x1="408.00" y1="110.30" x2="408.00" y2="113.90" stroke="#5F6CF0" stroke-width="1.0"/>
<path d="M355.80,8.60 L357.40,8.60 L357.40,12.00 L358.60,12.00 L358.60,15.50 L359.60,15.50 L359.60,18.50 L360.60,18.50 L360.60,22.60 L361.50,22.60 L361.50,25.50 L362.60,25.50 L362.60,28.80 L364.00,28.80 L364.00,32.50 L365.00,32.50 L365.00,35.00 L366.10,35.00 L366.10,37.50 L368.30,37.50 L368.30,38.00 L368.80,38.00 L368.80,40.00 L369.65,40.00 L369.65,42.50 L370.50,42.50 L370.50,45.00 L371.45,45.00 L371.45,48.10 L372.40,48.10 L372.40,51.20 L373.60,51.20 L373.60,53.65 L374.80,53.65 L374.80,56.10 L375.75,56.10 L375.75,59.25 L376.70,59.25 L376.70,62.40 L377.65,62.40 L377.65,65.50 L378.60,65.50 L378.60,68.60 L379.50,68.60 L379.50,71.70 L380.40,71.70 L380.40,74.80 L381.10,74.80 L381.10,78.00 L381.80,78.00 L381.80,81.20 L382.40,81.20 L382.40,84.30 L383.00,84.30 L383.00,87.40 L383.70,87.40 L383.70,91.80 L387.40,91.80 L388.60,91.80 L388.60,94.90 L389.25,94.90 L389.25,97.55 L389.90,97.55 L389.90,100.20 L391.70,100.20 L391.70,104.20 L402.30,104.20 L402.90,104.20 L402.90,107.00 L403.70,107.00 L403.70,109.25 L404.50,109.25 L404.50,111.50 L408.70,111.50 L408.70,112.50 L411.80,112.50 L411.80,113.70 L412.75,113.70 L412.75,116.20 L413.70,116.20 L413.70,118.70 L416.10,118.70 L416.10,121.10 L419.30,121.10 L420.50,121.10 L420.50,123.00 L424.80,123.00 L426.10,123.00 L426.10,127.40 L426.70,127.40 L426.70,131.70 L431.70,131.70 L432.30,131.70 L432.30,134.50 L432.90,134.50 L432.90,137.30 L433.33,137.30 L433.33,139.87 L433.77,139.87 L433.77,142.43 L434.20,142.43 L434.20,145.00 L434.90,145.00 L434.90,148.05 L435.60,148.05 L435.60,151.10 L460.40,151.10 L460.40,157.40 L472.40,157.40 L472.40,173.60 L473.40,173.60 L473.40,189.00" fill="none" stroke="#7C287D" stroke-width="1.5" stroke-linejoin="miter" stroke-linecap="butt" />
<line x1="436.80" y1="149.50" x2="436.80" y2="152.70" stroke="#7C287D" stroke-width="0.9"/>
<line x1="456.50" y1="149.50" x2="456.50" y2="152.70" stroke="#7C287D" stroke-width="0.9"/>
<line x1="463.50" y1="155.80" x2="463.50" y2="159.00" stroke="#7C287D" stroke-width="0.9"/>
<line x1="468.00" y1="155.80" x2="468.00" y2="159.00" stroke="#7C287D" stroke-width="0.9"/>
<line x1="471.00" y1="155.80" x2="471.00" y2="159.00" stroke="#7C287D" stroke-width="0.9"/>
<line x1="409.50" y1="111.21" x2="409.50" y2="114.41" stroke="#7C287D" stroke-width="0.9"/>
<line x1="418.00" y1="119.50" x2="418.00" y2="122.70" stroke="#7C287D" stroke-width="0.9"/>
<line x1="13.9" y1="224.2" x2="546.6" y2="224.2" stroke="#000" stroke-width="1.7"/>
<line x1="13.9" y1="243.9" x2="546.6" y2="243.9" stroke="#000" stroke-width="1.7"/>
<text x="139.10" y="238.30" class="tr" textLength="75.10" lengthAdjust="spacingAndGlyphs">N = 754 (100%)</text>
<text x="259.90" y="238.00" class="tb" textLength="122.60" lengthAdjust="spacingAndGlyphs">Disease-free survival (m)</text>
<text x="431.00" y="238.00" class="tb" textLength="97.40" lengthAdjust="spacingAndGlyphs">Overall survival (m)</text>
<text x="33.40" y="257.60" class="tb" textLength="70.60" lengthAdjust="spacingAndGlyphs">No recurrence</text>
<text x="147.00" y="257.80" class="tr" textLength="59.20" lengthAdjust="spacingAndGlyphs">379 (50.3%)</text>
<text x="312.30" y="257.80" class="tr" textLength="18.60" lengthAdjust="spacingAndGlyphs">N/A</text>
<text x="470.10" y="257.80" class="tr" textLength="19.40" lengthAdjust="spacingAndGlyphs">N/A</text>
<text x="26.10" y="277.00" class="tb" textLength="85.30" lengthAdjust="spacingAndGlyphs">Type I recurrence</text>
<text x="147.00" y="277.30" class="tr" textLength="59.20" lengthAdjust="spacingAndGlyphs">244 (32.4%)</text>
<text x="294.50" y="277.30" class="tr" textLength="20.80" lengthAdjust="spacingAndGlyphs">24.8</text>
<text x="327.20" y="277.30" class="tr" textLength="20.90" lengthAdjust="spacingAndGlyphs">23.0</text>
<text x="446.60" y="277.30" class="tr" textLength="32.90" lengthAdjust="spacingAndGlyphs">110.30</text>
<text x="491.20" y="277.30" class="tr" textLength="21.30" lengthAdjust="spacingAndGlyphs">3.14</text>
<text x="24.30" y="296.50" class="tb" textLength="88.50" lengthAdjust="spacingAndGlyphs">Type II recurrence</text>
<text x="153.40" y="296.80" class="tr" textLength="45.80" lengthAdjust="spacingAndGlyphs">51 (6.8%)</text>
<text x="294.80" y="296.80" class="tr" textLength="20.50" lengthAdjust="spacingAndGlyphs">15.0</text>
<text x="327.20" y="296.80" class="tr" textLength="20.80" lengthAdjust="spacingAndGlyphs">14.1</text>
<text x="449.50" y="296.80" class="tr" textLength="26.80" lengthAdjust="spacingAndGlyphs">34.52</text>
<text x="488.30" y="296.80" class="tr" textLength="21.40" lengthAdjust="spacingAndGlyphs">7.10</text>
<text x="22.40" y="316.10" class="tb" textLength="92.40" lengthAdjust="spacingAndGlyphs">Type III recurrence</text>
<text x="150.20" y="316.40" class="tr" textLength="52.20" lengthAdjust="spacingAndGlyphs">80 (10.6%)</text>
<text x="294.80" y="316.40" class="tr" textLength="20.50" lengthAdjust="spacingAndGlyphs">10.9</text>
<text x="327.20" y="316.40" class="tr" textLength="20.90" lengthAdjust="spacingAndGlyphs">12.8</text>
<text x="449.50" y="316.40" class="tr" textLength="26.80" lengthAdjust="spacingAndGlyphs">30.02</text>
<text x="488.30" y="316.40" class="tr" textLength="21.40" lengthAdjust="spacingAndGlyphs">8.35</text>
<path d="M318.80,271.60H324.60M321.70,268.50V274.60M318.80,276.40H324.60" stroke="#333" stroke-width="1.0" fill="none"/>
<path d="M482.40,271.60H488.20M485.30,268.50V274.60M482.40,276.40H488.20" stroke="#333" stroke-width="1.0" fill="none"/>
<path d="M318.80,291.10H324.60M321.70,288.00V294.10M318.80,295.90H324.60" stroke="#333" stroke-width="1.0" fill="none"/>
<path d="M479.50,291.10H485.30M482.40,288.00V294.10M479.50,295.90H485.30" stroke="#333" stroke-width="1.0" fill="none"/>
<path d="M318.80,310.70H324.60M321.70,307.60V313.70M318.80,315.50H324.60" stroke="#333" stroke-width="1.0" fill="none"/>
<path d="M479.50,310.70H485.30M482.40,307.60V313.70M479.50,315.50H485.30" stroke="#333" stroke-width="1.0" fill="none"/>
</svg>
</body></html>
